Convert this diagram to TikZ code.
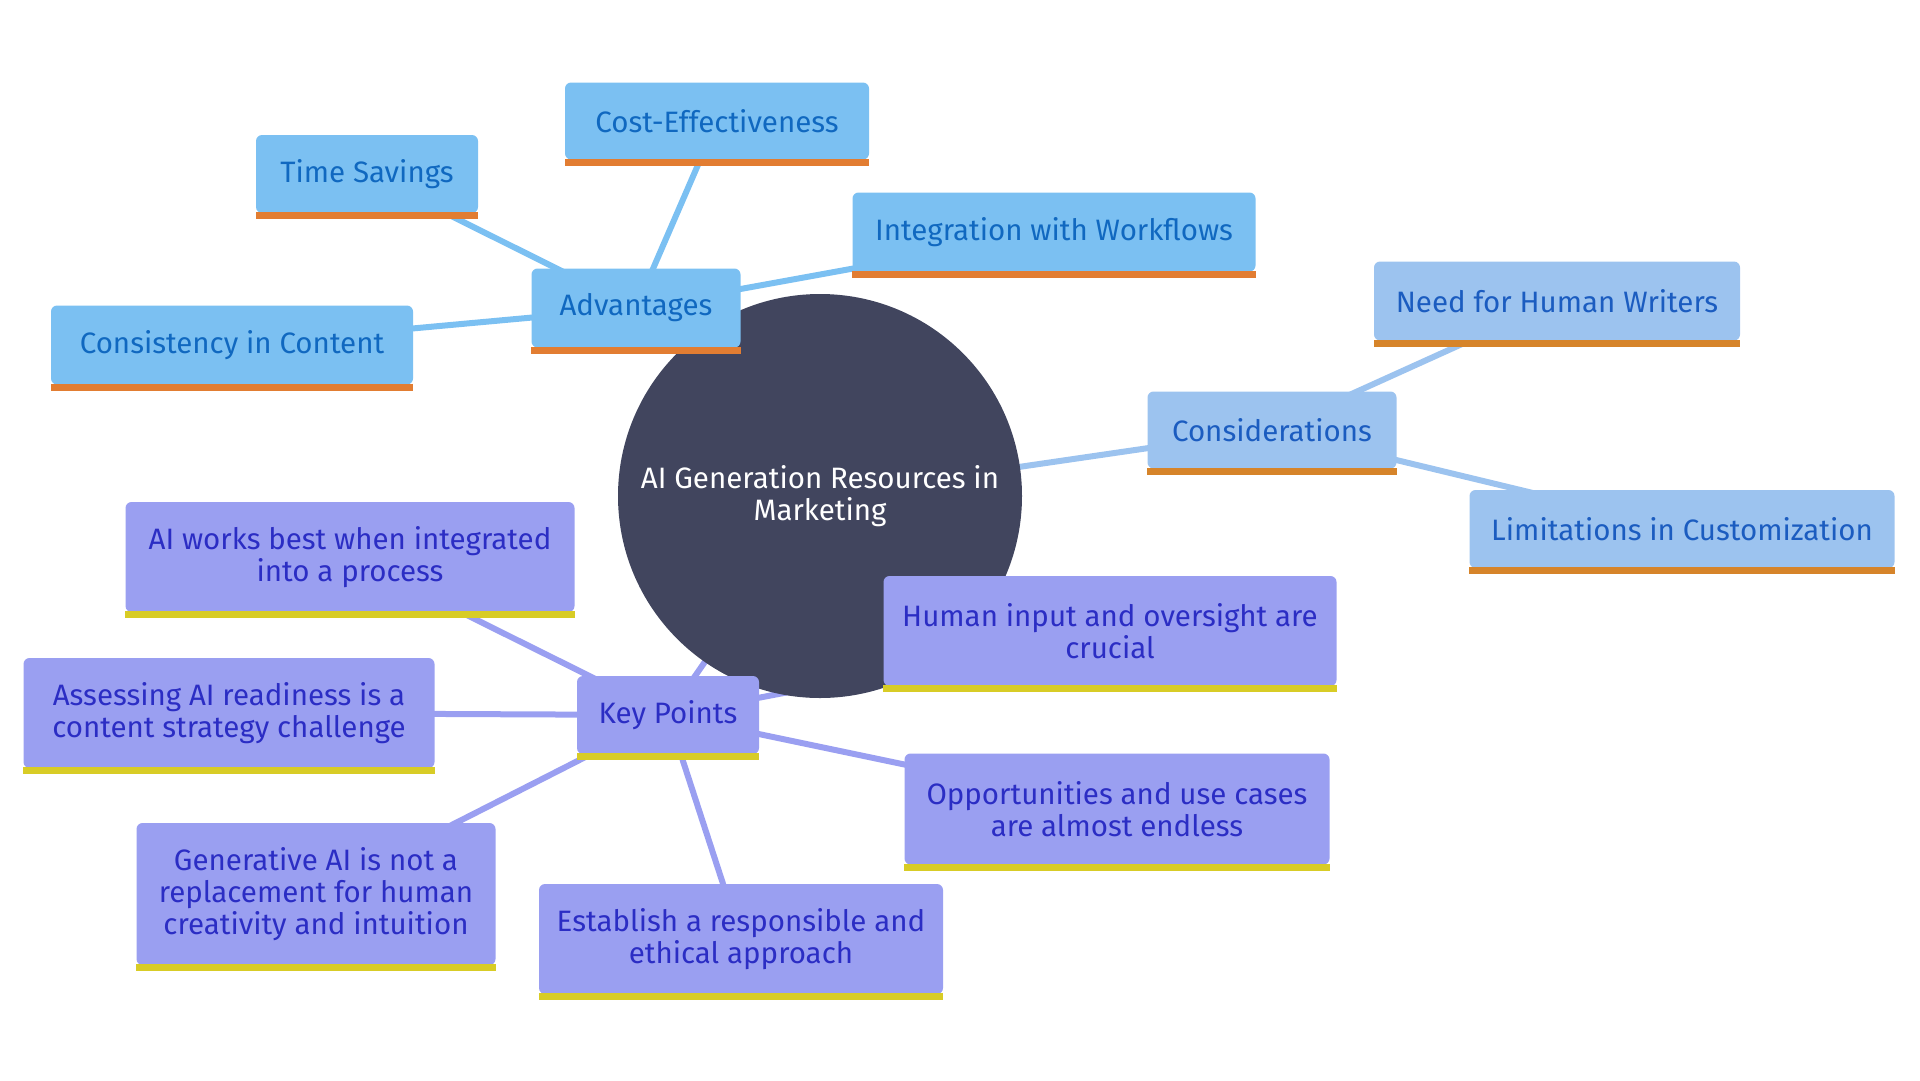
\documentclass[tikz,border=0pt]{standalone}
\usepackage{fontspec}
\setmainfont{Fira Sans}
\definecolor{advfill}{HTML}{7BC0F2}
\definecolor{advtext}{HTML}{1068C0}
\definecolor{advbar}{HTML}{E27D32}
\definecolor{confill}{HTML}{9CC3EF}
\definecolor{context}{HTML}{1B5CC0}
\definecolor{conbar}{HTML}{D6842A}
\definecolor{keyfill}{HTML}{9A9FF1}
\definecolor{keytext}{HTML}{2B2DC4}
\definecolor{keybar}{HTML}{D8CC26}
\definecolor{rootfill}{HTML}{41455E}
\pgfdeclarelayer{edges}
\pgfdeclarelayer{hub}
\pgfsetlayers{edges,hub,main}
\tikzset{
  base/.style={rounded corners=6pt, align=center, font=\fontsize{29.5}{32}\selectfont, inner sep=0pt, yshift=3pt},
  advbox/.style={base, fill=advfill, text=advtext},
  conbox/.style={base, fill=confill, text=context},
  keybox/.style={base, fill=keyfill, text=keytext},
  advline/.style={draw=advfill, line width=6pt},
  conline/.style={draw=confill, line width=6pt},
  keyline/.style={draw=keyfill, line width=6pt},
}
\begin{document}
\begin{tikzpicture}[x=1pt,y=-1pt]
\useasboundingbox (0,0) rectangle (1920,1080);
\begin{pgfonlayer}{hub}
\node[circle, fill=rootfill, text=white, minimum size=404pt, inner sep=0pt, align=center,
  font=\fontsize{29.5}{32}\selectfont] (root) at (820,496) {AI Generation Resources in\\Marketing};
\end{pgfonlayer}
\node[advbox, minimum width=209pt, minimum height=79pt] (adv) at (636,311) {Advantages};
\node[advbox, minimum width=222pt, minimum height=78pt] (tim) at (367,177) {Time Savings};
\node[advbox, minimum width=304pt, minimum height=77pt] (cost) at (717,124) {Cost-Effectiveness};
\node[advbox, minimum width=403pt, minimum height=79pt] (integ) at (1054,235) {Integration with Workflows};
\node[advbox, minimum width=362pt, minimum height=79pt] (consist) at (232,348) {Consistency in Content};
\node[conbox, minimum width=249pt, minimum height=77pt] (cons) at (1272,433) {Considerations};
\node[conbox, minimum width=366pt, minimum height=79pt] (need) at (1557,304) {Need for Human Writers};
\node[conbox, minimum width=425pt, minimum height=78pt] (lim) at (1682,532) {Limitations in Customization};
\node[keybox, minimum width=182pt, minimum height=78pt] (key) at (668,718) {Key Points};
\node[keybox, minimum width=449pt, minimum height=110pt] (aiw) at (350,560) {AI works best when integrated\\into a process};
\node[keybox, minimum width=411pt, minimum height=110pt] (assess) at (229,716) {Assessing AI readiness is a\\content strategy challenge};
\node[keybox, minimum width=359pt, minimum height=142pt] (gen) at (316,897) {Generative AI is not a\\replacement for human\\creativity and intuition};
\node[keybox, minimum width=404pt, minimum height=110pt] (est) at (741,942) {Establish a responsible and\\ethical approach};
\node[keybox, minimum width=425pt, minimum height=111pt] (opp) at (1117,812) {Opportunities and use cases\\are almost endless};
\node[keybox, minimum width=453pt, minimum height=110pt] (hum) at (1110,634) {Human input and oversight are\\crucial};
% bottom bars
\foreach \n in {adv,tim,cost,integ,consist} \fill[advbar] ([yshift=1pt]\n.south west) rectangle ([yshift=-6pt]\n.south east);
\foreach \n in {cons,need,lim} \fill[conbar] ([yshift=1pt]\n.south west) rectangle ([yshift=-6pt]\n.south east);
\foreach \n in {key,aiw,assess,gen,est,opp,hum} \fill[keybar] ([yshift=1pt]\n.south west) rectangle ([yshift=-6pt]\n.south east);
% connectors
\begin{pgfonlayer}{edges}
\draw[advline] (root.center) -- (adv.center);
\draw[conline] (root.center) -- (cons.center);
\draw[keyline] (root.center) -- (key.center);
\foreach \t in {tim,cost,integ,consist} \draw[advline] (adv.center) -- (\t.center);
\foreach \t in {need,lim} \draw[conline] (cons.center) -- (\t.center);
\foreach \t in {aiw,assess,gen,est,opp,hum} \draw[keyline] (key.center) -- (\t.center);
\end{pgfonlayer}
\end{tikzpicture}
\end{document}
